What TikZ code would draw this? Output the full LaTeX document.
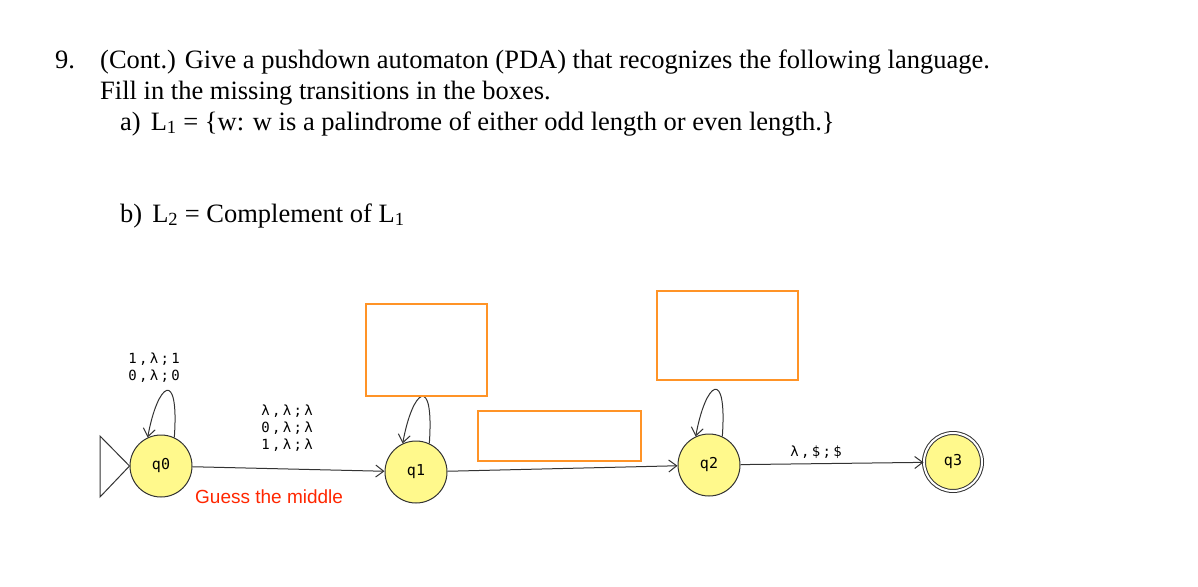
\documentclass[tikz,border=0pt]{standalone}
\usepackage{fontspec}
\setmainfont{Liberation Serif}
\newfontfamily\lbl{DejaVu Sans Mono}
\newfontfamily\hel{Liberation Sans}
\usetikzlibrary{arrows.meta}
\begin{document}
\begin{tikzpicture}[x=1pt,y=-1pt,
  st/.style={circle,draw=black!80,line width=1pt,fill=yellow!45,minimum size=62pt,inner sep=0pt,font=\lbl\fontsize{15}{15}\selectfont},
  tr/.style={draw=black!80,line width=1pt,-{Straight Barb[length=8pt,width=12pt]}},
  box/.style={draw=orange!85,line width=1.2pt},
  lab/.style={font=\lbl\fontsize{14}{17}\selectfont,align=center,inner sep=1pt},
  txt/.style={anchor=base west,font=\fontsize{26.5}{28}\selectfont,inner sep=0pt}]
\useasboundingbox (0,0) rectangle (1198,586);
\node[txt] (t1) at (55,68) {9.};
\node[txt] (t2) at (100,68) {(Cont.) Give a pushdown automaton (PDA) that recognizes the following language.};
\node[txt] (t3) at (100,99) {Fill in the missing transitions in the boxes.};
\node[txt] (t4) at (120,130) {a)\hspace{10pt}L\textsubscript{1} = \{w: w is a palindrome of either odd length or even length.\}};
\node[txt] (t5) at (120,222) {b)\hspace{10pt}L\textsubscript{2} = Complement of L\textsubscript{1}};
\node[st] (q0) at (161,466) {q0};
\node[st] (q1) at (416,472) {q1};
\node[st] (q2) at (709,465) {q2};
\node[st,double,double distance=2pt,minimum size=58pt] (q3) at (953,462) {q3};
\draw[draw=black!80,line width=1pt] (q0.west) -- (100,436) -- (100,497) -- cycle;
\draw[tr] (q0) -- (q1);
\draw[tr] (q1) -- (q2);
\draw[tr] (q2) -- (q3);
\foreach \q in {q0,q1,q2}
  \draw[tr] (\q.65) .. controls +(5,-70) and +(10,-55) .. (\q.115);
\node[lab] (l0) at (154,368) {1\,,\,λ\,;\,1\\0\,,\,λ\,;\,0};
\node[lab] (l1) at (287,428) {λ\,,\,λ\,;\,λ\\0\,,\,λ\,;\,λ\\1\,,\,λ\,;\,λ};
\node[lab] (l3) at (816,452) {λ\,,\,\$\,;\,\$};
\node[font=\hel\fontsize{19}{19}\selectfont,text=red!70!orange,anchor=west,inner sep=0pt] (g) at (195,497) {Guess the middle};
\draw[box] (366,304) rectangle (487,396);
\draw[box] (478,411) rectangle (641,461);
\draw[box] (657,291) rectangle (798,380);
\end{tikzpicture}
\end{document}
